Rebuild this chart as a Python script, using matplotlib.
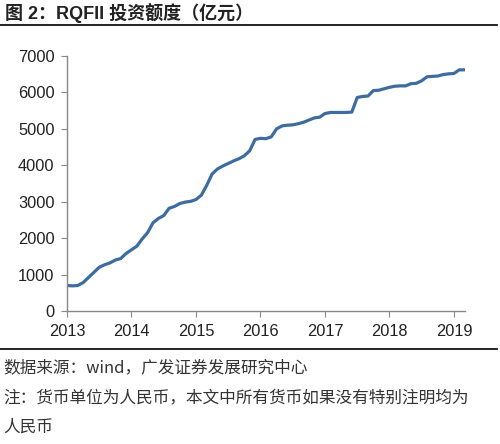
import matplotlib
matplotlib.use("Agg")
import matplotlib.pyplot as plt
from matplotlib.lines import Line2D
import numpy as np

plt.rcParams['font.family'] = ['Liberation Sans', 'Noto Sans CJK SC', 'DejaVu Sans']

start_year = 2013
values = [
    # 2013
    700, 690, 700, 780, 920, 1060, 1200, 1270, 1320, 1400, 1440, 1580,
    # 2014
    1680, 1780, 1980, 2150, 2420, 2540, 2620, 2820, 2870, 2950, 2990, 3010,
    # 2015
    3060, 3180, 3450, 3760, 3900, 3980, 4050, 4120, 4180, 4260, 4400, 4710,
    # 2016
    4740, 4730, 4780, 5000, 5080, 5100, 5110, 5140, 5180, 5240, 5300, 5320,
    # 2017
    5420, 5450, 5450, 5450, 5450, 5460, 5860, 5890, 5900, 6050, 6060, 6100,
    # 2018
    6140, 6170, 6180, 6180, 6240, 6250, 6320, 6430, 6440, 6450, 6490, 6510,
    # 2019
    6520, 6620, 6620,
]
x_ticks = [2013, 2014, 2015, 2016, 2017, 2018, 2019]
y_ticks = [0, 1000, 2000, 3000, 4000, 5000, 6000, 7000]

title = "图 2：RQFII 投资额度（亿元）"
source = "数据来源：wind，广发证券发展研究中心"
note1 = "注：货币单位为人民币，本文中所有货币如果没有特别注明均为"
note2 = "人民币"

x = start_year + np.arange(len(values)) / 12.0

fig = plt.figure(figsize=(5.0, 4.44), dpi=100)
W, H = 500, 444
ax = fig.add_axes([67 / W, 1 - 311 / H, (465 - 67) / W, (311 - 56) / H])
ax.plot(x, values, color='#3d6d9e', lw=2.3, solid_joinstyle='round')
ax.set_xlim(2013, x[-1] + 0.005)
ax.set_ylim(0, 7000)
ax.set_xticks(x_ticks)
ax.set_yticks(y_ticks)
for s in ['top', 'right']:
    ax.spines[s].set_visible(False)
for s in ['left', 'bottom']:
    ax.spines[s].set_color('#888888')
    ax.spines[s].set_linewidth(1.0)
ax.tick_params(axis='both', direction='out', length=4, color='#888888',
               labelsize=11.8, labelcolor='#222222')
ax.tick_params(axis='y', pad=5)
ax.tick_params(axis='x', pad=5)

fig.text(5 / W, 1 - 13 / H, title, fontsize=13, fontweight='bold', color='#222222',
         va='center', ha='left', family=['Liberation Sans', 'Noto Sans CJK SC'])
fig.add_artist(Line2D([0, 497 / W], [1 - 25 / H, 1 - 25 / H], color='#111111', lw=1.3))
fig.add_artist(Line2D([0, 497 / W], [1 - 349 / H, 1 - 349 / H], color='#111111', lw=1.3))
fig.text(3 / W, 1 - 368 / H, source, fontsize=12, color='#333333', va='center', ha='left',
         family=['Noto Sans CJK SC', 'DejaVu Sans'])
fig.text(3 / W, 1 - 398 / H, note1, fontsize=12, color='#333333', va='center', ha='left',
         family=['Noto Sans CJK SC', 'DejaVu Sans'])
fig.text(3 / W, 1 - 427 / H, note2, fontsize=12, color='#333333', va='center', ha='left',
         family=['Noto Sans CJK SC', 'DejaVu Sans'])

fig.savefig('out.png', dpi=100)
